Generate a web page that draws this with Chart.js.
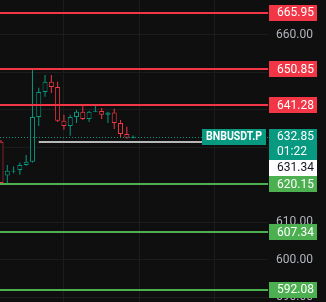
<!DOCTYPE html>
<html>
<head>
<meta charset="utf-8">
<script src="https://cdn.jsdelivr.net/npm/chart.js@4/dist/chart.umd.min.js"></script>
<style>
  html, body { margin: 0; padding: 0; background: #0f0f0f; overflow: hidden; }
  canvas { display: block; }
</style>
</head>
<body>
<canvas id="priceChart" width="326" height="302"></canvas>
<script>
// Candles (oldest -> newest)
const opens  = [631.5, 622.5, 623.6, 624.0, 625.3, 626.2, 638.1, 644.8, 647.5, 646.1, 637.1, 635.7, 638.1, 639.5, 637.6, 639.5, 639.7, 638.7, 639.3, 636.5, 633.6, 632.6];
const highs  = [632.0, 625.3, 624.9, 626.0, 628.0, 650.7, 645.9, 649.3, 649.3, 647.5, 638.7, 638.7, 640.0, 641.1, 639.7, 641.3, 640.5, 639.5, 640.3, 637.3, 635.5, 633.2];
const lows   = [620.0, 620.5, 623.1, 622.7, 625.1, 626.0, 635.7, 643.5, 644.5, 636.8, 634.7, 633.1, 636.5, 637.3, 636.8, 639.5, 637.6, 636.5, 634.9, 632.8, 632.3, 632.4];
const closes = [620.5, 623.8, 623.8, 625.3, 626.2, 638.1, 644.8, 647.5, 646.1, 637.1, 635.7, 638.1, 639.5, 637.6, 639.5, 639.7, 638.7, 639.3, 636.5, 633.6, 632.6, 632.85];

// Horizontal levels
const resistanceLevels = [665.95, 650.85, 641.28];
const supportLevels = [620.15, 607.34, 592.08];

// Price axis ticks and time grid positions (candle index)
const priceTicks = [590, 600, 610, 620, 630, 640, 650, 660, 670];
const timeGrid = [10, 22, 34];

const symbol = 'BNBUSDT.P';
const lastPrice = 632.85;
const countdown = '01:22';
const markPrice = 631.34;
const markStartCandle = 6;

const GREEN = '#089981';
const RED = '#F23645';
const LEVEL_RED = '#F23645';
const LEVEL_GREEN = '#4CAF50';
const BG = '#0f0f0f';
const GRID = '#1c1c1c';
const FONT = 'Roboto, "Liberation Sans", sans-serif';

const candleColors = opens.map((o, i) => closes[i] >= o ? GREEN : RED);

const overlay = {
    id: 'overlay',
    afterDatasetsDraw(chart) {
        const { ctx, chartArea: a, scales: { x, y } } = chart;
        ctx.save();
        ctx.beginPath();
        ctx.rect(a.left, a.top, a.right - a.left, a.bottom - a.top);
        ctx.clip();

        // support / resistance lines
        ctx.lineWidth = 2;
        resistanceLevels.concat(supportLevels).forEach(v => {
            const py = Math.round(y.getPixelForValue(v));
            ctx.strokeStyle = v > lastPrice ? LEVEL_RED : LEVEL_GREEN;
            ctx.beginPath();
            ctx.moveTo(a.left, py);
            ctx.lineTo(a.right, py);
            ctx.stroke();
        });

        // last price dotted line
        const lp = Math.round(y.getPixelForValue(lastPrice)) + 0.5;
        ctx.strokeStyle = GREEN;
        ctx.lineWidth = 1;
        ctx.setLineDash([1, 2]);
        ctx.beginPath();
        ctx.moveTo(a.left, lp);
        ctx.lineTo(a.right, lp);
        ctx.stroke();
        ctx.setLineDash([]);

        // mark price line
        const mp = Math.round(y.getPixelForValue(markPrice));
        ctx.strokeStyle = '#b8b8b8';
        ctx.lineWidth = 2;
        ctx.beginPath();
        ctx.moveTo(x.getPixelForValue(markStartCandle), mp);
        ctx.lineTo(202, mp);
        ctx.stroke();
        ctx.restore();
    },
    afterDraw(chart) {
        const { ctx, scales: { y } } = chart;
        const boxLeft = 269, boxW = 48, textX = 277;

        const labels = [];
        resistanceLevels.forEach(v => labels.push({ v, bg: LEVEL_RED, fg: '#ffffff', lines: [v.toFixed(2)] }));
        supportLevels.forEach(v => labels.push({ v, bg: LEVEL_GREEN, fg: '#ffffff', lines: [v.toFixed(2)] }));
        labels.push({ v: lastPrice, bg: GREEN, fg: '#ffffff', lines: [lastPrice.toFixed(2), countdown] });
        labels.push({ v: markPrice, bg: '#ffffff', fg: '#131722', lines: [markPrice.toFixed(2)] });

        labels.forEach(l => {
            l.top = y.getPixelForValue(l.v) - 8;
            l.h = l.lines.length > 1 ? 31 : 16;
        });
        labels.sort((p, q) => p.top - q.top);
        let prevBottom = -Infinity;
        labels.forEach(l => {
            if (l.top < prevBottom) l.top = prevBottom;
            prevBottom = l.top + l.h;
        });

        ctx.save();
        ctx.font = '12px ' + FONT;
        ctx.textBaseline = 'middle';
        ctx.textAlign = 'left';
        labels.forEach(l => {
            ctx.fillStyle = l.bg;
            ctx.fillRect(boxLeft, Math.round(l.top), boxW, l.h);
            ctx.fillStyle = l.fg;
            l.lines.forEach((t, k) => ctx.fillText(t, textX, l.top + 8.5 + k * 14.7));
        });

        // symbol tag left of the last price label
        const sy = y.getPixelForValue(lastPrice) - 8;
        ctx.fillStyle = GREEN;
        ctx.fillRect(202, Math.round(sy), 64, 16);
        ctx.fillStyle = '#ffffff';
        ctx.font = 'bold 12px ' + FONT;
        ctx.textAlign = 'center';
        ctx.fillText(symbol, 234, sy + 8.5, 56);
        ctx.restore();
    }
};

new Chart(document.getElementById('priceChart'), {
    type: 'bar',
    data: {
        datasets: [
            {
                label: 'body',
                order: 0,
                data: opens.map((o, i) => ({ x: i, y: [o, closes[i]] })),
                backgroundColor: BG,
                borderColor: candleColors,
                borderWidth: 1,
                borderSkipped: false,
                barThickness: 5,
                inflateAmount: 0
            },
            {
                label: 'wick',
                order: 1,
                data: lows.map((lo, i) => ({ x: i, y: [lo, highs[i]] })),
                backgroundColor: candleColors,
                borderWidth: 0,
                barThickness: 1,
                inflateAmount: 0
            }
        ]
    },
    options: {
        responsive: false,
        animation: false,
        events: [],
        layout: { padding: { left: 0, top: 0, bottom: 0, right: 13 } },
        datasets: { bar: { grouped: false } },
        plugins: {
            legend: { display: false },
            tooltip: { enabled: false }
        },
        scales: {
            x: {
                type: 'linear',
                offset: false,
                bounds: 'data',
                min: -0.16,
                max: 42.44,
                ticks: { display: false },
                grid: { color: GRID, drawTicks: false, offset: false },
                border: { display: false },
                afterBuildTicks: s => { s.ticks = timeGrid.map(v => ({ value: v })); },
                afterFit: s => { s.height = 0; s.paddingLeft = 0; s.paddingRight = 0; }
            },
            y: {
                position: 'right',
                min: 588.8,
                max: 669.33,
                bounds: 'data',
                ticks: {
                    autoSkip: false,
                    color: '#B2B5BE',
                    font: { family: FONT, size: 12 },
                    crossAlign: 'far',
                    padding: 0,
                    callback: v => v.toFixed(2)
                },
                grid: { color: GRID, drawTicks: false },
                border: { display: false },
                afterBuildTicks: s => { s.ticks = priceTicks.map(v => ({ value: v })); },
                afterFit: s => { s.width = 45; s.paddingTop = 0; s.paddingBottom = 0; }
            }
        }
    },
    plugins: [overlay]
});
</script>
</body>
</html>
